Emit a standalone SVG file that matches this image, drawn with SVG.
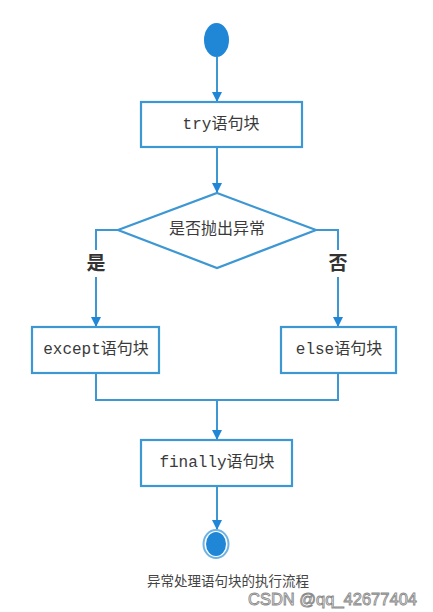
<svg xmlns="http://www.w3.org/2000/svg" width="433" height="612" viewBox="0 0 433 612">
<defs>
<style>
.box{fill:#fff;stroke:#3d97d3;stroke-width:2.2}
.ln{fill:none;stroke:#3d97d3;stroke-width:2}
.t{font-family:"Liberation Mono","Noto Sans CJK SC",monospace;font-size:16px;fill:#3a3a3a;text-anchor:middle;dominant-baseline:central}
.lab{font-family:"Noto Sans CJK SC",sans-serif;font-size:19px;font-weight:bold;fill:#333;text-anchor:middle}
.cap{font-family:"Noto Sans CJK SC",sans-serif;font-size:13.5px;fill:#444;text-anchor:middle}
.wm{font-family:"Liberation Sans",Arial,sans-serif;font-size:16.5px;fill:#fff;stroke:#8a8a8a;stroke-width:0.9;text-anchor:end}
</style>
<marker id="ah" viewBox="0 0 10 10" refX="10" refY="5" markerWidth="5" markerHeight="6" markerUnits="strokeWidth" orient="auto">
<path d="M0,0 L10,5 L0,10 z" fill="#1f87d6"/>
</marker>
</defs>
<rect width="433" height="612" fill="#fff"/>
<g id="connectors">
<path class="ln" d="M217,57 V102" marker-end="url(#ah)"/>
<path class="ln" d="M217,147 V193" marker-end="url(#ah)"/>
<path class="ln" d="M118,230 H96 V327" marker-end="url(#ah)"/>
<path class="ln" d="M316,230 H338 V327" marker-end="url(#ah)"/>
<path class="ln" d="M96,373 V400 H338 V373"/>
<path class="ln" d="M217,400 V440" marker-end="url(#ah)"/>
<path class="ln" d="M217,486 V530" marker-end="url(#ah)"/>
<rect x="84" y="250" width="24" height="27" fill="#fff"/>
<rect x="326" y="250" width="24" height="27" fill="#fff"/>
<text class="lab" x="96" y="270">是</text>
<text class="lab" x="338" y="270">否</text>
</g>
<g id="start">
<ellipse cx="216.5" cy="40" rx="12.5" ry="17" fill="#1f87d6"/>
</g>
<g id="try">
<rect class="box" x="141" y="102" width="161" height="45"/>
<text class="t" x="221" y="125">try语句块</text>
</g>
<g id="decision">
<polygon class="box" points="217,193 316,230 217,268 118,230"/>
<text class="t" x="217" y="230">是否抛出异常</text>
</g>
<g id="except">
<rect class="box" x="32" y="327" width="127" height="46"/>
<text class="t" x="96" y="350">except语句块</text>
</g>
<g id="else">
<rect class="box" x="281" y="327" width="115" height="46"/>
<text class="t" x="339" y="350">else语句块</text>
</g>
<g id="finally">
<rect class="box" x="141" y="440" width="151" height="46"/>
<text class="t" x="217" y="463">finally语句块</text>
</g>
<g id="end">
<ellipse cx="216" cy="544" rx="12.5" ry="14" fill="#fff" stroke="#6fb3e3" stroke-width="2"/>
<ellipse cx="216" cy="544" rx="10" ry="12" fill="#1f87d6"/>
</g>
<text class="cap" x="228" y="586">异常处理语句块的执行流程</text>
<text class="wm" x="417" y="605">CSDN @qq_42677404</text>
</svg>
